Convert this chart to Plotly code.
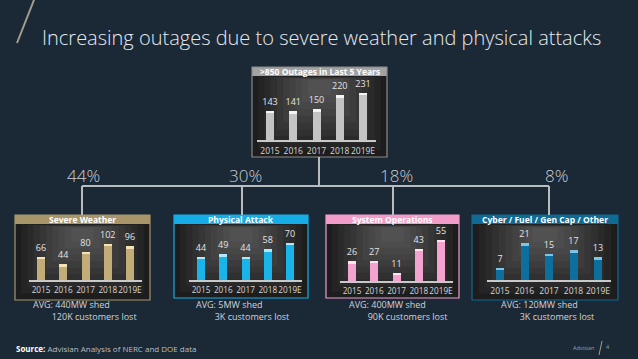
import plotly.graph_objects as go

W, H = 638, 359

# ---------------- data ----------------
years = ["2015", "2016", "2017", "2018", "2019E"]
total_outages = [143, 141, 150, 220, 231]
severe_weather = [66, 44, 80, 102, 96]
physical_attack = [44, 49, 44, 58, 70]
system_operations = [26, 27, 11, 43, 55]
cyber_other = [7, 21, 15, 17, 13]

category_names = ["Severe Weather", "Physical Attack", "System Operations",
                  "Cyber / Fuel / Gen Cap / Other"]
category_shares = ["44%", "30%", "18%", "8%"]
avg_mw = ["AVG: 440MW shed", "AVG: 5MW shed", "AVG: 400MW shed", "AVG: 120MW shed"]
avg_customers = ["120K customers lost", "3K customers lost",
                 "90K customers lost", "3K customers lost"]
title_text = "Increasing outages due to severe weather and physical attacks"
top_header = ">850 Outages in Last 5 Years"
source_label = "Source:"
source_text = "Advisian Analysis of NERC and DOE data"
footer_brand = "Advisian"
page_number = "4"

# ---------------- layout helpers ----------------
def px(x):
    return x / W

def py(y):
    return 1 - y / H

FONT = "Open Sans"
BG = "#1b2836"

panels = [
    dict(values=total_outages, header=top_header, x0=270, x4=363, base=140, scale=0.2035,
         bar="#c4c4c4", cap="#f4f4f4", head="#a3a3a3", border="#8a8a8a",
         box=(252, 67, 387, 157), hb=76, tsize=8.5),
    dict(values=severe_weather, header=category_names[0], x0=41, x4=130, base=280, scale=0.353,
         bar="#c2ac78", cap="#f3e3b4", head="#a8956a", border="#a8956a",
         box=(15, 215, 150, 300), hb=224, tsize=8.2),
    dict(values=physical_attack, header=category_names[1], x0=201, x4=290, base=280, scale=0.529,
         bar="#18b4ea", cap="#aee8fb", head="#16ade6", border="#16ade6",
         box=(174, 215, 308, 298), hb=224, tsize=8.2),
    dict(values=system_operations, header=category_names[2], x0=352, x4=441, base=281, scale=0.75,
         bar="#f4a2cf", cap="#fde2f0", head="#f29cc9", border="#f29cc9",
         box=(326, 215, 459, 298), hb=224, tsize=8.2),
    dict(values=cyber_other, header=category_names[3], x0=500, x4=598, base=280, scale=1.75,
         bar="#0d6f9e", cap="#7fc4e4", head="#0f6a94", border="#0f6a94",
         box=(472, 215, 618, 300), hb=224, tsize=8.5),
]

fig = go.Figure()
shapes = []
annotations = []

for i, p in enumerate(panels):
    sfx = "" if i == 0 else str(i + 1)
    vals = p["values"]
    d = (p["x4"] - p["x0"]) / 4
    pad = 0.55
    R = max(vals) * 1.3
    top_px = p["base"] - R * p["scale"]
    xa = dict(domain=[px(p["x0"] - pad * d), px(p["x4"] + pad * d)],
              range=[-pad, 4 + pad], tickvals=list(range(5)), ticktext=years,
              showline=True, linecolor="#c9c9c9", linewidth=1.5, showgrid=False,
              zeroline=False, ticks="", tickangle=0,
              tickfont=dict(size=p["tsize"], color="#d6d6d6", family=FONT),
              ticklabelstandoff=2, anchor="y" + sfx, fixedrange=True)
    ya = dict(domain=[py(p["base"]), py(top_px)], range=[0, R], visible=False,
              anchor="x" + sfx, fixedrange=True)
    fig.layout["xaxis" + sfx] = xa
    fig.layout["yaxis" + sfx] = ya
    bw = 8 / d
    cap = 2.5 / p["scale"]
    fig.add_trace(go.Bar(x=list(range(5)), y=vals, width=bw, marker=dict(color=p["bar"], line=dict(width=0)),
                         text=[str(v) for v in vals], textposition="outside", constraintext="none",
                         textfont=dict(size=9, color="#e4e4e4", family=FONT),
                         cliponaxis=False, hoverinfo="skip", showlegend=False,
                         xaxis="x" + sfx, yaxis="y" + sfx))
    fig.add_trace(go.Bar(x=list(range(5)), y=[cap] * 5, base=[v - cap for v in vals], width=bw,
                         marker=dict(color=p["cap"], line=dict(width=0)),
                         hoverinfo="skip", showlegend=False,
                         xaxis="x" + sfx, yaxis="y" + sfx))

    # panel body with fake radial gradient
    x1, y1, x2, y2 = p["box"]
    hb = p["hb"]
    shapes.append(dict(type="rect", xref="paper", yref="paper", x0=px(x1), x1=px(x2),
                       y0=py(y2), y1=py(hb), fillcolor="#1d1d1d", line=dict(width=0), layer="below"))
    n = 10
    bw_px = x2 - x1
    bh_px = y2 - hb
    for k in range(1, n):
        ix = k * bw_px * 0.46 / n
        iyb = k * bh_px * 0.85 / n
        iyt = k * bh_px * 0.05 / n
        shapes.append(dict(type="rect", xref="paper", yref="paper",
                           x0=px(x1 + ix), x1=px(x2 - ix), y0=py(y2 - iyb), y1=py(hb + iyt),
                           fillcolor="rgba(255,255,255,0.033)", line=dict(width=0), layer="below"))
    # header
    shapes.append(dict(type="rect", xref="paper", yref="paper", x0=px(x1), x1=px(x2),
                       y0=py(hb), y1=py(y1), fillcolor=p["head"], line=dict(width=0), layer="below"))
    # border
    shapes.append(dict(type="rect", xref="paper", yref="paper", x0=px(x1), x1=px(x2),
                       y0=py(y2), y1=py(y1), fillcolor="rgba(0,0,0,0)",
                       line=dict(width=1.2, color=p["border"]), layer="below"))
    annotations.append(dict(x=px((x1 + x2) / 2), y=py((y1 + hb) / 2), xref="paper", yref="paper",
                            text="<b>" + p["header"] + "</b>", showarrow=False,
                            xanchor="center", yanchor="middle",
                            font=dict(size=8.5, color="#ffffff", family=FONT)))

# connector lines
line_c = "#b9bcbf"
conn_x = [82, 242, 393, 549]
shapes.append(dict(type="line", xref="paper", yref="paper", x0=px(319), x1=px(319),
                   y0=py(157), y1=py(186), line=dict(color=line_c, width=2)))
shapes.append(dict(type="line", xref="paper", yref="paper", x0=px(conn_x[0]), x1=px(conn_x[-1]),
                   y0=py(186), y1=py(186), line=dict(color=line_c, width=2)))
for cx in conn_x:
    shapes.append(dict(type="line", xref="paper", yref="paper", x0=px(cx), x1=px(cx),
                       y0=py(186), y1=py(215), line=dict(color=line_c, width=2)))

# share labels
share_x = [83, 245, 396, 556]
for sx, s in zip(share_x, category_shares):
    annotations.append(dict(x=px(sx), y=py(175), xref="paper", yref="paper", text=s,
                            showarrow=False, xanchor="center", yanchor="middle",
                            font=dict(size=17, color="#c9cdd1", family=FONT, weight=300)))

# AVG texts (two lines, second one indented)
avg_x = [31, 194, 347, 499]
indent = "&nbsp;" * 8
for ax, t1, t2 in zip(avg_x, avg_mw, avg_customers):
    annotations.append(dict(x=px(ax), y=py(296), xref="paper", yref="paper",
                            text=t1 + "<br>" + indent + t2, align="left",
                            showarrow=False, xanchor="left", yanchor="top",
                            font=dict(size=9, color="#d2d4d6", family=FONT)))

# title + decorative slash
shapes.append(dict(type="line", xref="paper", yref="paper", x0=px(34), x1=px(17),
                   y0=py(0), y1=py(43), line=dict(color="#a39d8b", width=2)))
annotations.append(dict(x=px(40), y=py(37), xref="paper", yref="paper", text=title_text,
                        showarrow=False, xanchor="left", yanchor="middle",
                        font=dict(size=20, color="#e6eaee", family=FONT, weight=300)))

# footer
annotations.append(dict(x=px(14), y=py(348), xref="paper", yref="paper",
                        text="<b>" + source_label + "</b> " + '<span style="color:#b9bec3">' + source_text + "</span>",
                        showarrow=False, xanchor="left", yanchor="middle",
                        font=dict(size=8, color="#ffffff", family=FONT)))
annotations.append(dict(x=px(596), y=py(348), xref="paper", yref="paper", text=footer_brand,
                        showarrow=False, xanchor="right", yanchor="middle",
                        font=dict(size=5.5, color="#9aa0a6", family=FONT)))
annotations.append(dict(x=px(604), y=py(347), xref="paper", yref="paper", text=page_number,
                        showarrow=False, xanchor="left", yanchor="middle",
                        font=dict(size=5.5, color="#9aa0a6", family=FONT)))
shapes.append(dict(type="line", xref="paper", yref="paper", x0=px(602), x1=px(599),
                   y0=py(341), y1=py(355), line=dict(color="#a39d8b", width=1)))

fig.update_layout(width=W, height=H, margin=dict(l=0, r=0, t=0, b=0),
                  paper_bgcolor=BG, plot_bgcolor="rgba(0,0,0,0)", barmode="overlay",
                  shapes=shapes, annotations=annotations, showlegend=False, bargap=0)
fig.write_html("out.html", config={"displayModeBar": False, "staticPlot": True},
               post_script="document.body.style.margin='0';document.body.style.background='" + BG + "';")
